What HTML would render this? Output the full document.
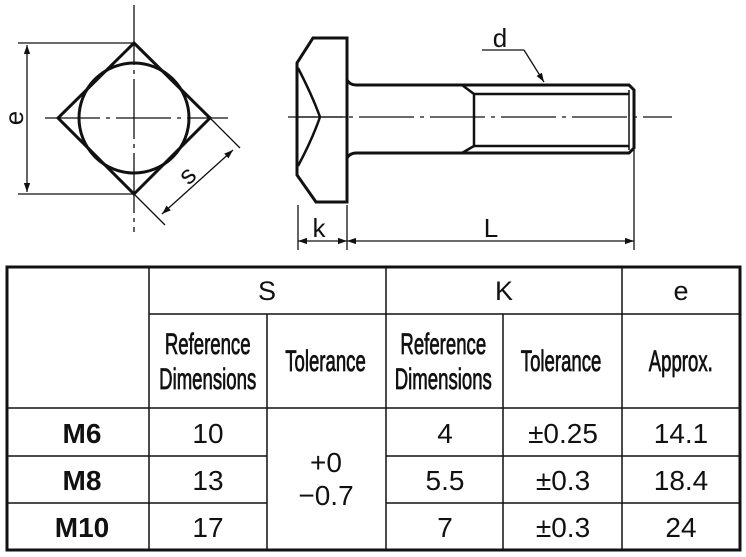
<!DOCTYPE html>
<html><head><meta charset="utf-8"><style>
html,body{margin:0;padding:0;background:#fff}
svg{display:block}
text{font-family:"Liberation Sans",Arial,sans-serif;fill:#111}
</style></head><body>
<svg width="746" height="557" viewBox="0 0 746 557" xmlns="http://www.w3.org/2000/svg">
<defs>
<marker id="ar" viewBox="0 0 10 10" refX="10" refY="5" markerWidth="14" markerHeight="9" markerUnits="userSpaceOnUse" orient="auto-start-reverse"><path d="M0,1.5L10,5L0,8.5z" fill="#111"/></marker>
</defs>
<g stroke="#111" fill="none">
<line x1="134" y1="5" x2="134" y2="232" stroke-width="1.3" stroke-dasharray="60,5,4,5"/>
<line x1="45" y1="118" x2="228" y2="118" stroke-width="1.3" stroke-dasharray="55,6,4,6"/>
<polygon points="134,43 210,118 134,194 58,118" stroke-width="3"/>
<circle cx="134" cy="118" r="55" stroke-width="3"/>
<line x1="18" y1="43" x2="134" y2="43" stroke-width="1.3"/>
<line x1="18" y1="194" x2="134" y2="194" stroke-width="1.3"/>
<line x1="27" y1="45" x2="27" y2="192" stroke-width="1.3" marker-start="url(#ar)" marker-end="url(#ar)"/>
<line x1="210" y1="118" x2="240" y2="148" stroke-width="1.3"/>
<line x1="134" y1="194" x2="165" y2="225" stroke-width="1.3"/>
<line x1="162" y1="214" x2="233" y2="150" stroke-width="1.3" marker-start="url(#ar)" marker-end="url(#ar)"/>
<line x1="288" y1="117" x2="672" y2="117" stroke-width="1.3" stroke-dasharray="55,6,4,6"/>
<path d="M313,38 L347,38 L347,202 L316,202 L297,175 L297,63 Z" stroke-width="3"/>
<path d="M298,68 Q312,95 320,117 Q312,140 298,166" stroke-width="2.5"/>
<line x1="298" y1="117" x2="347" y2="117" stroke-width="1.3"/>
<path d="M347,80 Q350,85 356,85 L629,85 L634,90 L634,148 L629,153 L356,153 Q350,153 347,158" stroke-width="3"/>
<path d="M462,85 L474,94 L474,146 L462,153" stroke-width="2.5"/>
<line x1="474" y1="94" x2="629" y2="94" stroke-width="2.5"/>
<line x1="474" y1="146" x2="629" y2="146" stroke-width="2.5"/>
<line x1="629" y1="90" x2="629" y2="150" stroke-width="1.5"/>
<line x1="482" y1="50" x2="524" y2="50" stroke-width="1.3"/>
<line x1="524" y1="50" x2="544" y2="82" stroke-width="1.3" marker-end="url(#ar)"/>
<line x1="298" y1="205" x2="298" y2="250" stroke-width="1.3"/>
<line x1="347" y1="205" x2="347" y2="250" stroke-width="1.3"/>
<line x1="634" y1="150" x2="634" y2="250" stroke-width="1.3"/>
<line x1="298" y1="241" x2="347" y2="241" stroke-width="1.3" marker-start="url(#ar)" marker-end="url(#ar)"/>
<line x1="347" y1="241" x2="634" y2="241" stroke-width="1.3" marker-start="url(#ar)" marker-end="url(#ar)"/>
</g>
<text x="14" y="118" font-size="26" transform="rotate(-90 14 118)" text-anchor="middle" dominant-baseline="central">e</text>
<text x="187" y="175" font-size="26" transform="rotate(-45 187 175)" text-anchor="middle" dominant-baseline="central">s</text>
<text x="500" y="47" font-size="26" text-anchor="middle">d</text>
<text x="319" y="237" font-size="26" text-anchor="middle">k</text>
<text x="491" y="237" font-size="26" text-anchor="middle">L</text>
<g stroke="#111" fill="none">
<rect x="7" y="267" width="733" height="283" stroke-width="3"/>
<g stroke-width="1.5">
<line x1="149" y1="267" x2="149" y2="550"/>
<line x1="386" y1="267" x2="386" y2="550"/>
<line x1="622" y1="267" x2="622" y2="550"/>
<line x1="267" y1="314" x2="267" y2="550"/>
<line x1="503" y1="314" x2="503" y2="550"/>
<line x1="149" y1="314" x2="740" y2="314"/>
<line x1="7" y1="408" x2="740" y2="408"/>
<line x1="7" y1="456" x2="267" y2="456"/>
<line x1="386" y1="456" x2="740" y2="456"/>
<line x1="7" y1="503" x2="267" y2="503"/>
<line x1="386" y1="503" x2="740" y2="503"/>
</g>
</g>
<g font-size="27" text-anchor="middle">
<text x="267" y="300">S</text>
<text x="504" y="300">K</text>
<text x="681" y="300">e</text>
</g>
<g font-size="30" text-anchor="middle" transform="scale(0.62,1)" stroke="#111" stroke-width="0.8">
<text x="335" y="354">Reference</text>
<text x="335" y="389">Dimensions</text>
<text x="525" y="371">Tolerance</text>
<text x="715" y="354">Reference</text>
<text x="715" y="389">Dimensions</text>
<text x="905" y="371">Tolerance</text>
<text x="1098" y="371">Approx.</text>
</g>
<g font-size="28" text-anchor="middle">
<text x="82" y="443" font-weight="bold">M6</text>
<text x="82" y="490" font-weight="bold">M8</text>
<text x="82" y="537" font-weight="bold">M10</text>
<text x="208" y="443">10</text>
<text x="208" y="490">13</text>
<text x="208" y="537">17</text>
<text x="326" y="472">+0</text>
<text x="326" y="505">−0.7</text>
<text x="445" y="443">4</text>
<text x="445" y="490">5.5</text>
<text x="445" y="537">7</text>
<text x="563" y="443">±0.25</text>
<text x="563" y="490">±0.3</text>
<text x="563" y="537">±0.3</text>
<text x="681" y="443">14.1</text>
<text x="681" y="490">18.4</text>
<text x="681" y="537">24</text>
</g>
</svg>
</body></html>
